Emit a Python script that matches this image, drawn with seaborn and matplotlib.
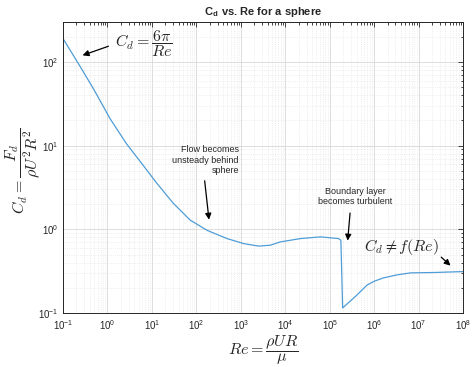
import numpy as np
import pandas as pd
import matplotlib
matplotlib.use("Agg")
import matplotlib.pyplot as plt
import matplotlib.ticker as mticker
import seaborn as sns

# Drag curve
reynolds = [0.1, 0.242, 0.482, 1.15, 2.69, 6.46, 12.9, 30.2, 72.4, 174, 490,
            1150, 2510, 4570, 7760, 21900, 61700, 158000, 178000,
            195000, 398000, 692000, 1e6, 1.62e6, 3.16e6, 6.6e6, 2.19e7, 1e8]
drag_coef = [190, 88.5, 47.9, 20.9, 10.5, 5.75, 3.55, 2.05, 1.29, 0.973, 0.776,
             0.676, 0.631, 0.646, 0.708, 0.776, 0.813, 0.776, 0.741,
             0.115, 0.162, 0.216, 0.240, 0.263, 0.285, 0.302, 0.305, 0.313]

x_ticks = [10.0 ** k for k in range(-1, 9)]
y_ticks = [10.0 ** k for k in range(-1, 3)]

df = pd.DataFrame({"Re": reynolds, "Cd": drag_coef})

sns.set_style("white")
plt.rcParams["font.family"] = ["Liberation Sans", "DejaVu Sans"]
plt.rcParams["mathtext.fontset"] = "cm"

fig = plt.figure(figsize=(4.74, 3.67), dpi=100)
ax = fig.add_axes([0.133, 0.147, 0.844, 0.793])

sns.lineplot(data=df, x="Re", y="Cd", sort=False, estimator=None,
             color="#4f9dd6", linewidth=0.9, ax=ax)

ax.set_xscale("log")
ax.set_yscale("log")
ax.set_xlim(0.1, 1e8)
ax.set_ylim(0.1, 300)

ax.set_xticks(x_ticks)
ax.set_yticks(y_ticks)
ax.xaxis.set_minor_locator(mticker.LogLocator(base=10, subs=np.arange(2, 10), numticks=20))
ax.yaxis.set_minor_locator(mticker.LogLocator(base=10, subs=np.arange(2, 10), numticks=20))
ax.xaxis.set_minor_formatter(mticker.NullFormatter())
ax.yaxis.set_minor_formatter(mticker.NullFormatter())
ax.tick_params(which="both", direction="in", top=True, right=True,
               labelsize=7, colors="#262626", width=0.6)
ax.tick_params(which="major", length=3.5)
ax.tick_params(which="minor", length=1.8)

ax.grid(True, which="major", color="#d8d8d8", linewidth=0.6)
ax.grid(True, which="minor", color="#e2e2e2", linewidth=0.5, linestyle=":")
ax.set_axisbelow(True)
for s in ax.spines.values():
    s.set_color("#262626")
    s.set_linewidth(0.7)

ax.set_xlabel(r"$Re = \dfrac{\rho U R}{\mu}$", fontsize=11.5, va="top")
ax.xaxis.set_label_coords(0.5, -0.068)
ax.set_ylabel(r"$C_d = \dfrac{F_d}{\rho U^2 R^2}$", fontsize=11.5, va="center")
ax.yaxis.set_label_coords(-0.1, 0.49)
ax.set_title(r"C$_\mathdefault{d}$ vs. Re for a sphere", fontsize=8,
             fontweight="bold", pad=5)

arrow = dict(arrowstyle="-|>", color="black", lw=0.9, mutation_scale=9)
ax.annotate("", xy=(0.24, 117), xytext=(1.2, 158), arrowprops=arrow)
ax.text(1.45, 165, r"$C_d = \dfrac{6\pi}{Re}$", fontsize=11.5, va="center", ha="left")

ax.annotate("", xy=(195, 1.21), xytext=(151, 4.1), arrowprops=arrow)
ax.text(900, 6.7, "Flow becomes\nunsteady behind\nsphere", fontsize=6.5,
        ha="right", va="center", linespacing=1.2)

ax.annotate("", xy=(2.5e5, 0.68), xytext=(2.9e5, 1.69), arrowprops=arrow)
ax.text(3.8e5, 2.48, "Boundary layer\nbecomes turbulent", fontsize=6.5,
        ha="center", va="center", linespacing=1.2)

ax.annotate("", xy=(5.8e7, 0.35), xytext=(2.9e7, 0.49), arrowprops=arrow)
ax.text(4.1e6, 0.61, r"$C_d \neq f(Re)$", fontsize=11.5, ha="center", va="center")

fig.savefig("out.png", dpi=100)
